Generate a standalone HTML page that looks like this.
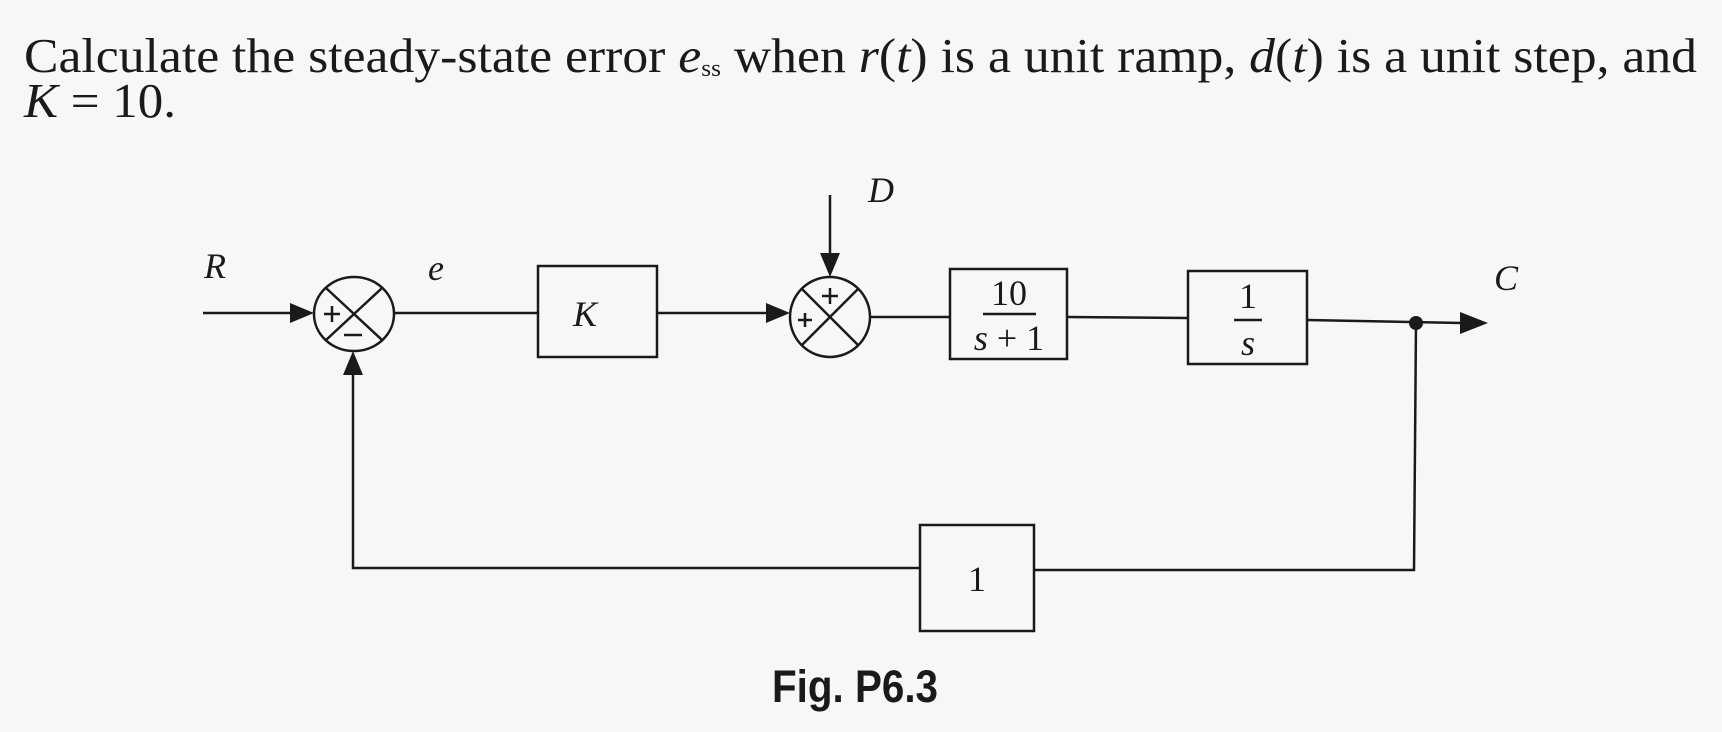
<!DOCTYPE html>
<html><head><meta charset="utf-8"><style>
html,body{margin:0;padding:0;background:#f7f7f5;}
svg{display:block;}
</style></head><body>
<svg width="1722" height="732" viewBox="0 0 1722 732" xmlns="http://www.w3.org/2000/svg">
<rect width="1722" height="732" fill="#f7f7f5"/>
<g font-family="Liberation Serif, serif" fill="#1a1a1a">
<text x="24" y="72" font-size="49" textLength="1673" lengthAdjust="spacingAndGlyphs">Calculate the steady-state error <tspan font-style="italic">e</tspan><tspan font-size="24" dy="4">ss</tspan><tspan dy="-4"> when </tspan><tspan font-style="italic">r</tspan>(<tspan font-style="italic">t</tspan>) is a unit ramp, <tspan font-style="italic">d</tspan>(<tspan font-style="italic">t</tspan>) is a unit step, and</text>
<text x="24" y="117" font-size="49" textLength="152" lengthAdjust="spacingAndGlyphs"><tspan font-style="italic">K</tspan> = 10.</text>
</g>
<g stroke="#1a1a1a" stroke-width="2.5" fill="none">
<line x1="203" y1="313" x2="300" y2="313"/>
<ellipse cx="354" cy="314" rx="40" ry="37"/>
<line x1="326" y1="288" x2="382" y2="340"/>
<line x1="382" y1="288" x2="326" y2="340"/>
<line x1="394" y1="313" x2="538" y2="313"/>
<rect x="538" y="266" width="119" height="91"/>
<line x1="657" y1="313" x2="770" y2="313"/>
<ellipse cx="830" cy="317" rx="40" ry="40"/>
<line x1="802" y1="289" x2="858" y2="345"/>
<line x1="858" y1="289" x2="802" y2="345"/>
<line x1="830" y1="195" x2="830" y2="255"/>
<line x1="870" y1="317" x2="950" y2="317"/>
<rect x="950" y="269" width="117" height="90"/>
<line x1="1067" y1="317" x2="1188" y2="318"/>
<rect x="1188" y="271" width="119" height="93"/>
<line x1="1307" y1="320" x2="1462" y2="323"/>
<polyline points="1416,323 1414,570 1034,570"/>
<rect x="920" y="525" width="114" height="106"/>
<polyline points="920,568 353,568 353,373"/>
</g>
<g fill="#1a1a1a">
<polygon points="314,313 290,303 290,323"/>
<polygon points="790,313 766,303 766,323"/>
<polygon points="830,277 820,253 840,253"/>
<polygon points="1488,323 1460,312 1460,334"/>
<polygon points="353,351 343,375 363,375"/>
<circle cx="1416" cy="323" r="7"/>
</g>
<g stroke="#1a1a1a" stroke-width="2.5">
<line x1="324" y1="314" x2="340" y2="314"/><line x1="332" y1="306" x2="332" y2="322"/>
<line x1="344" y1="335" x2="362" y2="335"/>
<line x1="822" y1="296" x2="838" y2="296"/><line x1="830" y1="288" x2="830" y2="304"/>
<line x1="798" y1="320" x2="812" y2="320"/><line x1="805" y1="313" x2="805" y2="327"/>
<line x1="983" y1="314" x2="1036" y2="314"/>
<line x1="1234" y1="320" x2="1262" y2="320"/>
</g>
<g font-family="Liberation Serif, serif" fill="#1a1a1a" font-size="36">
<text x="204" y="278" font-style="italic">R</text>
<text x="428" y="280" font-style="italic">e</text>
<text x="868" y="202" font-style="italic">D</text>
<text x="1494" y="290" font-style="italic">C</text>
<text x="585" y="326" font-style="italic" text-anchor="middle">K</text>
<text x="1009" y="305" text-anchor="middle">10</text>
<text x="1009" y="350" text-anchor="middle"><tspan font-style="italic">s</tspan> + 1</text>
<text x="1248" y="308" text-anchor="middle">1</text>
<text x="1248" y="355" text-anchor="middle" font-style="italic">s</text>
<text x="977" y="591" text-anchor="middle">1</text>
</g>
<text x="772" y="702" font-family="Liberation Sans Narrow, Liberation Sans, sans-serif" font-weight="bold" font-size="45" fill="#1a1a1a" textLength="166" lengthAdjust="spacingAndGlyphs">Fig. P6.3</text>
</svg>
</body></html>
